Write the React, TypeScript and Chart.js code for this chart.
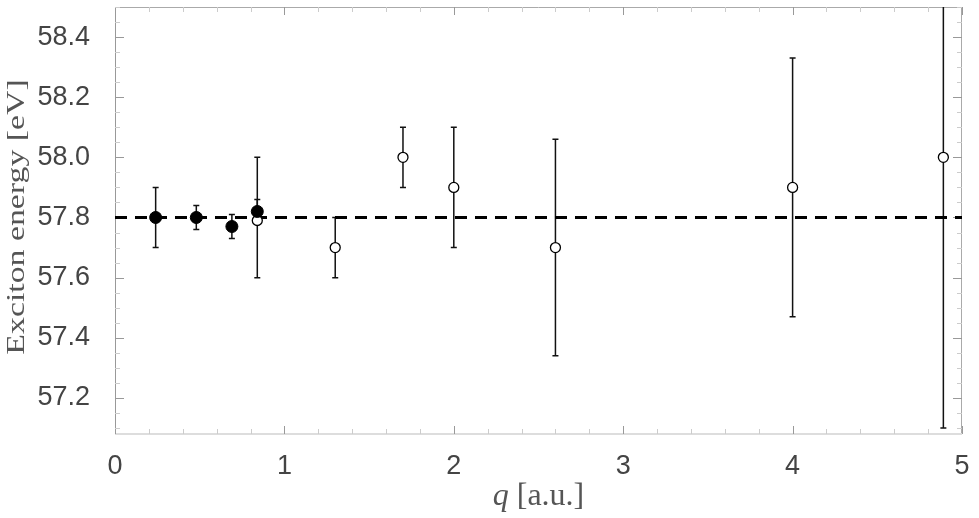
import React, { useEffect, useRef } from "react";
import { Chart, registerables } from "chart.js";

Chart.register(...registerables);

// ---- data ----
const filledQ = [0.24, 0.48, 0.69, 0.84];
const filledE = [57.8, 57.8, 57.77, 57.82];
const filledLo = [57.7, 57.76, 57.73, 57.78];
const filledHi = [57.9, 57.84, 57.81, 57.86];

const openQ = [0.84, 1.3, 1.7, 2.0, 2.6, 4.0, 4.89];
const openE = [57.79, 57.7, 58.0, 57.9, 57.7, 57.9, 58.0];
const openLo = [57.6, 57.6, 57.9, 57.7, 57.34, 57.47, 57.1];
const openHi = [58.0, 57.8, 58.1, 58.1, 58.06, 58.33, 58.9];

const refQ = [0, 5];
const refE = [57.8, 57.8];

const xTicks = [0, 1, 2, 3, 4, 5];
const yTicks = [57.2, 57.4, 57.6, 57.8, 58.0, 58.2, 58.4];
const xMinorStep = 0.2;
const yMinorStep = 0.05;

const xTitleItalic = "q";
const xTitleRest = " [a.u.]";
const yTitle = "Exciton energy [eV]";

const toPts = (xs: number[], ys: number[]) => xs.map((x, i) => ({ x, y: ys[i] }));

const framePlugin = {
  id: "framePlugin",
  beforeDatasetsDraw(chart: any) {
    const { ctx, chartArea: a, scales } = chart;
    const xs = scales.x;
    const ys = scales.y;
    ctx.save();
    // frame
    ctx.lineWidth = 1;
    ctx.strokeStyle = "#aaa";
    ctx.beginPath();
    ctx.moveTo(a.left + 0.5, a.bottom);
    ctx.lineTo(a.left + 0.5, a.top + 0.5);
    ctx.lineTo(a.right - 0.5, a.top + 0.5);
    ctx.lineTo(a.right - 0.5, a.bottom);
    ctx.stroke();
    ctx.strokeStyle = "#999";
    ctx.beginPath();
    ctx.moveTo(a.left + 0.5, a.bottom);
    ctx.lineTo(a.left + 0.5, a.top);
    ctx.stroke();
    ctx.lineWidth = 2;
    ctx.strokeStyle = "#ddd";
    ctx.beginPath();
    ctx.moveTo(a.left, a.bottom);
    ctx.lineTo(a.right, a.bottom);
    ctx.stroke();

    // x ticks (bottom & top, inward)
    ctx.lineWidth = 1;
    const nx = Math.round((xs.max - xs.min) / xMinorStep);
    for (let i = 0; i <= nx; i++) {
      const v = xs.min + i * xMinorStep;
      const major = xTicks.some((t) => Math.abs(t - v) < 1e-6);
      const px = Math.round(xs.getPixelForValue(v)) + 0.5;
      const len = major ? 8 : 5;
      ctx.strokeStyle = major ? "#999" : "#ccc";
      ctx.beginPath();
      ctx.moveTo(px, a.bottom);
      ctx.lineTo(px, a.bottom - len);
      ctx.moveTo(px, a.top);
      ctx.lineTo(px, a.top + len);
      ctx.stroke();
    }
    // y ticks (left & right, inward)
    const y0 = Math.ceil(ys.min / yMinorStep - 1e-6) * yMinorStep;
    for (let v = y0; v <= ys.max + 1e-6; v += yMinorStep) {
      const major = yTicks.some((t) => Math.abs(t - v) < 1e-6);
      const py = Math.round(ys.getPixelForValue(v)) + 0.5;
      const len = major ? 9 : 5;
      ctx.strokeStyle = major ? "#999" : "#ccc";
      ctx.beginPath();
      ctx.moveTo(a.left, py);
      ctx.lineTo(a.left + len, py);
      ctx.moveTo(a.right, py);
      ctx.lineTo(a.right - len, py);
      ctx.stroke();
    }

    // error bars
    ctx.beginPath();
    ctx.rect(a.left, a.top, a.right - a.left, a.bottom - a.top);
    ctx.clip();
    ctx.strokeStyle = "#111";
    ctx.lineWidth = 1.5;
    const drawBars = (q: number[], lo: number[], hi: number[]) => {
      q.forEach((qq, i) => {
        const px = xs.getPixelForValue(qq);
        const pl = ys.getPixelForValue(lo[i]);
        const ph = ys.getPixelForValue(hi[i]);
        ctx.beginPath();
        ctx.moveTo(px, pl);
        ctx.lineTo(px, ph);
        ctx.moveTo(px - 3, pl);
        ctx.lineTo(px + 3, pl);
        ctx.moveTo(px - 3, ph);
        ctx.lineTo(px + 3, ph);
        ctx.stroke();
      });
    };
    drawBars(openQ, openLo, openHi);
    drawBars(filledQ, filledLo, filledHi);
    ctx.restore();
  },
  afterDraw(chart: any) {
    const { ctx, chartArea: a } = chart;
    ctx.save();
    ctx.fillStyle = "#555";
    // x title
    ctx.textBaseline = "alphabetic";
    ctx.font = "italic 32px 'Liberation Serif'";
    const wq = ctx.measureText(xTitleItalic).width;
    ctx.font = "32px 'Liberation Serif'";
    const wr = ctx.measureText(xTitleRest).width;
    const cx = (a.left + a.right) / 2;
    const sx = cx - (wq + wr) / 2;
    ctx.textAlign = "left";
    ctx.font = "italic 32px 'Liberation Serif'";
    ctx.fillText(xTitleItalic, sx, 505);
    ctx.font = "32px 'Liberation Serif'";
    ctx.fillText(xTitleRest, sx + wq, 505);
    // y title
    ctx.translate(24, 217);
    ctx.rotate(-Math.PI / 2);
    ctx.scale(1.3, 1);
    ctx.textAlign = "center";
    ctx.font = "26px 'Liberation Serif'";
    ctx.fillText(yTitle, 0, 0);
    ctx.restore();
  },
};

export default function App() {
  const ref = useRef<HTMLCanvasElement | null>(null);
  useEffect(() => {
    if (!ref.current) return;
    const chart = new Chart(ref.current, {
      type: "scatter",
      data: {
        datasets: [
          {
            label: "filled",
            data: toPts(filledQ, filledE),
            pointRadius: 6,
            pointBackgroundColor: "#000",
            pointBorderColor: "#000",
            pointBorderWidth: 1,
          },
          {
            label: "open",
            data: toPts(openQ, openE),
            pointRadius: 5,
            pointBackgroundColor: "#fff",
            pointBorderColor: "#000",
            pointBorderWidth: 1.3,
          },
          {
            type: "line",
            label: "reference",
            data: toPts(refQ, refE),
            borderColor: "#000",
            borderWidth: 3,
            borderDash: [12, 8],
            pointRadius: 0,
            fill: false,
          } as any,
        ],
      },
      options: {
        animation: false,
        responsive: false,
        devicePixelRatio: 1,
        layout: { padding: { top: 7, right: 17, left: 0, bottom: 0 } },
        plugins: { legend: { display: false }, tooltip: { enabled: false } },
        scales: {
          x: {
            type: "linear",
            min: 0,
            max: 5,
            grid: { display: false },
            border: { display: false },
            afterBuildTicks: (s: any) => {
              s.ticks = xTicks.map((v) => ({ value: v }));
            },
            afterFit: (s: any) => {
              s.height = 84;
              s.paddingLeft = 0;
              s.paddingRight = 0;
              s.paddingTop = 0;
              s.paddingBottom = 0;
            },
            ticks: {
              padding: 8,
              color: "#444",
              font: { family: "'Liberation Sans'", size: 27 },
              callback: (v: any) => String(v),
            },
          },
          y: {
            type: "linear",
            min: 57.08,
            max: 58.5,
            grid: { display: false },
            border: { display: false },
            afterBuildTicks: (s: any) => {
              s.ticks = yTicks.map((v) => ({ value: v }));
            },
            afterFit: (s: any) => {
              s.width = 115;
              s.paddingLeft = 0;
              s.paddingRight = 0;
              s.paddingTop = 0;
              s.paddingBottom = 0;
            },
            ticks: {
              padding: 17,
              color: "#444",
              font: { family: "'Liberation Sans'", size: 27 },
              callback: (v: any) => Number(v).toFixed(1),
            },
          },
        },
      },
      plugins: [framePlugin],
    });
    return () => chart.destroy();
  }, []);
  return (
    <div style={{ position: "fixed", left: 0, top: 0, width: 979, height: 518, background: "#fff" }}>
      <canvas ref={ref} width={979} height={518} style={{ display: "block" }} />
    </div>
  );
}
